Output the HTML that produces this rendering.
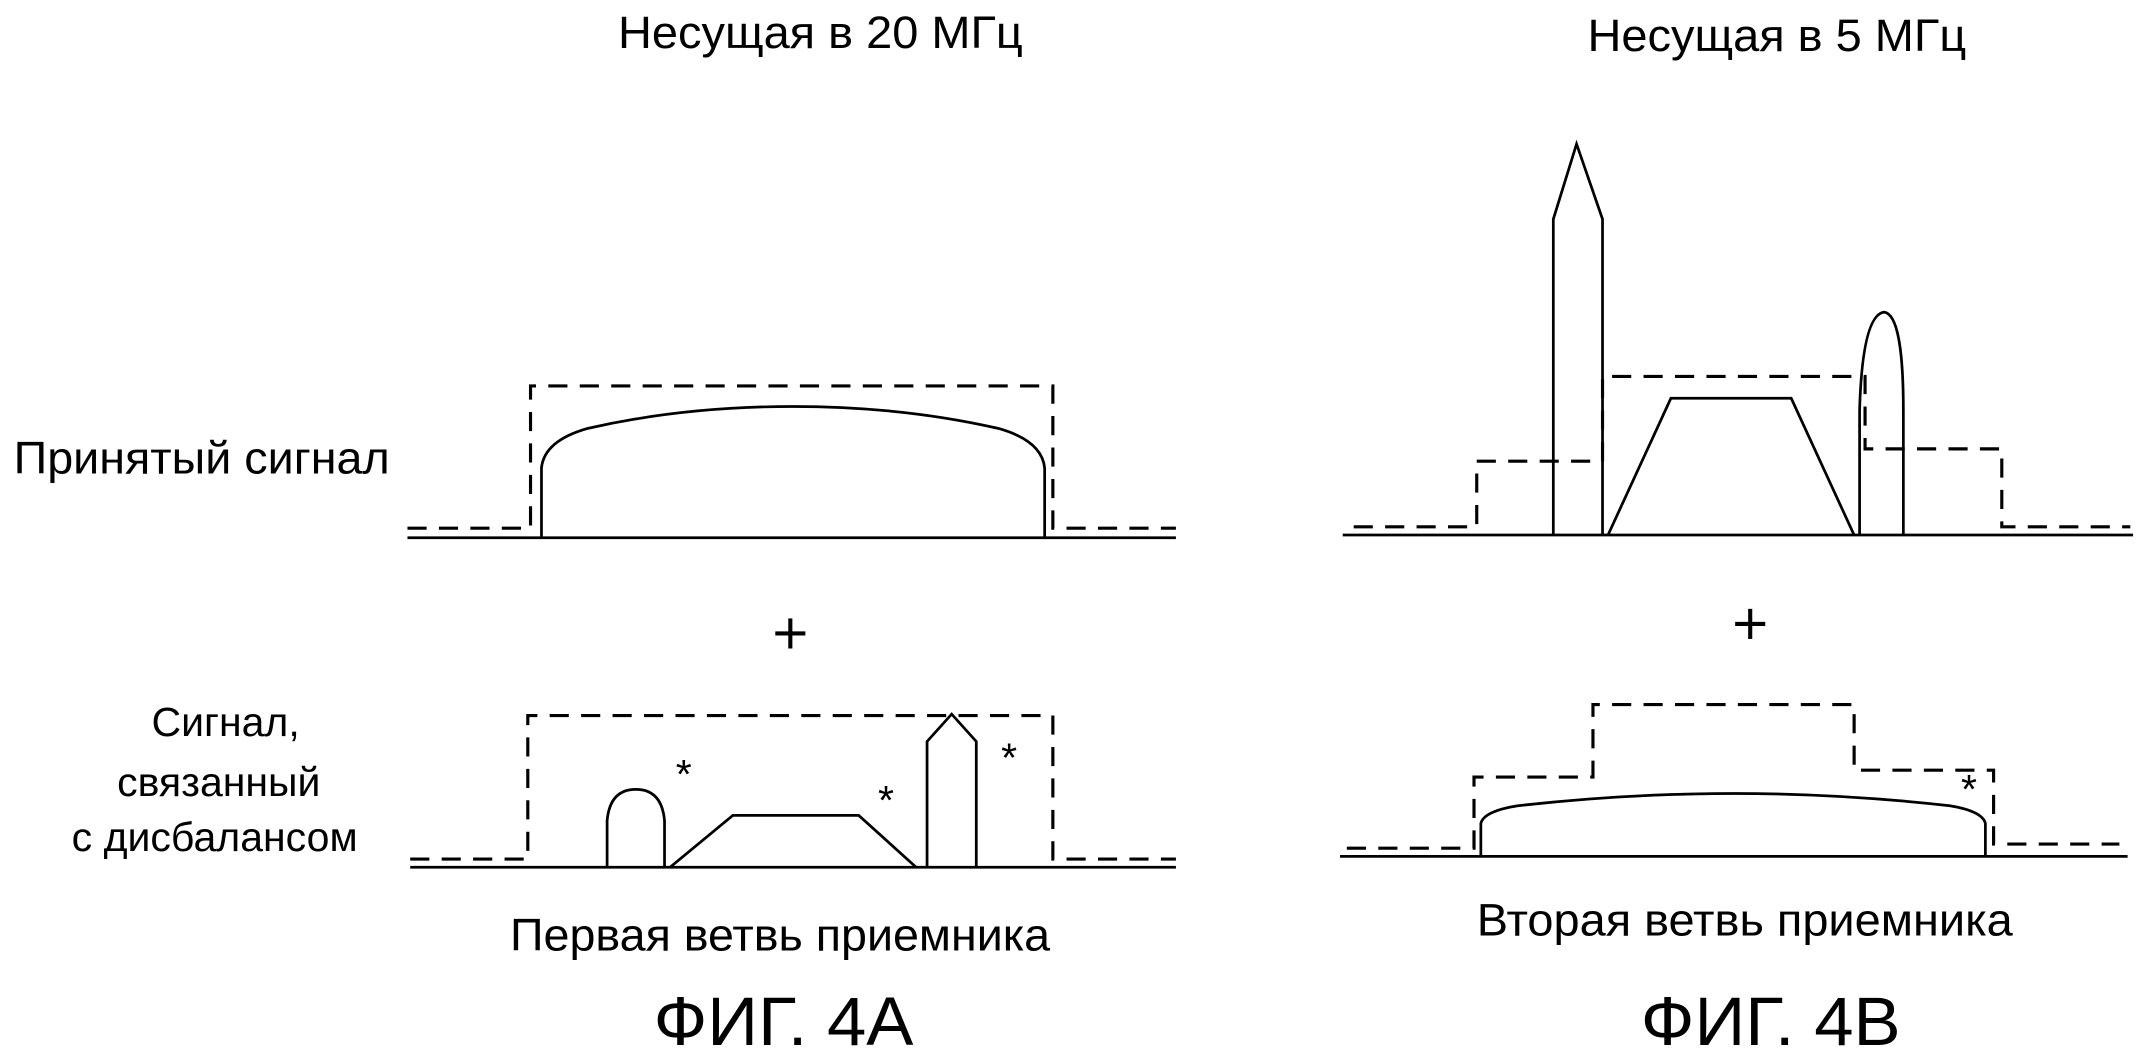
<!DOCTYPE html>
<html><head><meta charset="utf-8"><style>html,body{margin:0;padding:0;background:#fff}svg{display:block}</style></head>
<body>
<svg width="2144" height="1055" viewBox="0 0 1568 771" xmlns="http://www.w3.org/2000/svg" font-family="Liberation Sans, Arial, sans-serif" fill="none" stroke="#000">
<g fill="#000" stroke="none" font-size="33">
<text x="452" y="35" textLength="296" lengthAdjust="spacingAndGlyphs">Несущая в 20 МГц</text>
<text x="1161" y="37" textLength="277" lengthAdjust="spacingAndGlyphs">Несущая в 5 МГц</text>
<text x="10" y="346" textLength="275" lengthAdjust="spacingAndGlyphs">Принятый сигнал</text>
<text x="165" y="538" text-anchor="middle" font-size="30">Сигнал,</text>
<text x="160" y="582" text-anchor="middle" font-size="30">связанный</text>
<text x="157" y="622" text-anchor="middle" font-size="30">с дисбалансом</text>
<text x="373" y="695" textLength="395" lengthAdjust="spacingAndGlyphs">Первая ветвь приемника</text>
<text x="1080" y="684" textLength="392" lengthAdjust="spacingAndGlyphs">Вторая ветвь приемника</text>
<text x="478" y="764" font-size="50" textLength="190" lengthAdjust="spacingAndGlyphs">ФИГ. 4А</text>
<text x="1200" y="764" font-size="50" textLength="190" lengthAdjust="spacingAndGlyphs">ФИГ. 4В</text>
</g>
<g stroke-width="3">
<line x1="567" y1="463" x2="589" y2="463"/><line x1="578" y1="452" x2="578" y2="474"/>
<line x1="1269" y1="456" x2="1291" y2="456"/><line x1="1280" y1="445" x2="1280" y2="467"/>
</g>
<g stroke-width="2">
<line x1="298" y1="393" x2="860" y2="393"/>
<path d="M396 393 V342 Q398 322 430 313 Q500 297 580 297 Q660 297 730 313 Q762 322 764 342 V393"/>
<line x1="300" y1="634" x2="860" y2="634"/>
<path d="M444 634 V600 Q446 577 465 577 Q484 577 486 600 V634"/>
<path d="M490 634 L536 596 H628 L670 634"/>
<path d="M678 634 V542 L696 522 L714 542 V634"/>
<line x1="982" y1="391" x2="1560" y2="391"/>
<path d="M1136 391 V160 L1153 105 L1172 160 V391"/>
<path d="M1176 391 L1222 291 H1310 L1356 391"/>
<path d="M1360 391 V300 Q1362 230 1378 228 Q1392 230 1392 300 V391"/>
<line x1="980" y1="626" x2="1556" y2="626"/>
<path d="M1083 626 V602 Q1085 593 1110 589 Q1190 580 1268 580 Q1346 580 1426 589 Q1450 593 1452 602 V626"/>
</g>
<g stroke-width="2.3" stroke-dasharray="14,9">
<path d="M298 386 H388 V282 H770 V386 H860"/>
<path d="M300 628 H386 V523 H770 V628 H860"/>
<path d="M990 385 H1080 V337 H1172 V275 H1364 V328 H1464 V385 H1558"/>
<path d="M985 620 H1078 V568 H1165 V515 H1356 V563 H1458 V617 H1550"/>
</g>
<g fill="#000" stroke="none" font-size="30" text-anchor="middle">
<text x="500" y="576">*</text><text x="648" y="595">*</text><text x="738" y="564">*</text><text x="1440" y="587">*</text>
</g>
</svg>
</body></html>
